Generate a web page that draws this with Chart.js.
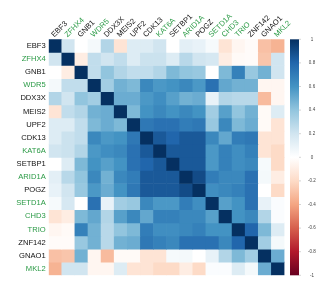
<!DOCTYPE html>
<html>
<head>
<meta charset="utf-8">
<script src="https://cdn.jsdelivr.net/npm/chart.js@4/dist/chart.umd.min.js"></script>
<style>
  html, body { margin: 0; padding: 0; background: #fff; }
  #wrap { width: 326px; height: 297px; }
</style>
</head>
<body>
<div id="wrap"><canvas id="heat"></canvas></div>
<script>
// gene names, in row/column order
var genes = ['EBF3','ZFHX4','GNB1','WDR5','DDX3X','MEIS2','UPF2','CDK13','KAT6A',
             'SETBP1','ARID1A','POGZ','SETD1A','CHD3','TRIO','ZNF142','GNAO1','MKL2'];
// genes drawn with green labels
var greenGenes = ['ZFHX4','WDR5','KAT6A','ARID1A','SETD1A','CHD3','TRIO','MKL2'];

// lower triangle of the correlation matrix (row i, columns 0..i-1)
var corrLower = [
  [],
  [0.2],
  [0, -0.1],
  [0.05, 0.25, 0.25],
  [0.3, 0.2, 0.4, 0.35],
  [-0.15, 0.25, 0.3, 0.48, 0.5],
  [0.15, 0.15, 0.25, 0.45, 0.5, 0.45],
  [0.15, 0.22, 0.25, 0.65, 0.58, 0.6, 0.72],
  [0.2, 0.22, 0.3, 0.58, 0.62, 0.65, 0.75, 0.85],
  [0, 0.15, 0.45, 0.6, 0.55, 0.6, 0.75, 0.8, 0.85],
  [0.12, 0.28, 0.4, 0.65, 0.48, 0.65, 0.7, 0.85, 0.85, 0.85],
  [0.1, 0.2, 0.38, 0.58, 0.5, 0.6, 0.72, 0.85, 0.85, 0.85, 0.9],
  [0.04, 0.18, 0, 0.75, 0.1, 0.35, 0.38, 0.65, 0.58, 0.58, 0.7, 0.62],
  [-0.15, -0.1, 0.45, 0.52, 0.3, 0.55, 0.65, 0.52, 0.68, 0.68, 0.65, 0.65, 0.55],
  [-0.05, -0.03, 0.68, 0.48, 0.28, 0.4, 0.45, 0.7, 0.62, 0.62, 0.65, 0.68, 0.6, 0.6],
  [-0.02, -0.02, 0.38, 0.48, 0.28, 0.48, 0.5, 0.72, 0.68, 0.65, 0.75, 0.75, 0.75, 0.65, 0.8],
  [-0.3, -0.28, 0.48, -0.05, -0.32, -0.03, -0.03, -0.15, -0.15, 0.04, 0.05, 0, 0.1, 0.3, 0.45, 0.35],
  [-0.35, 0.2, 0.2, -0.05, -0.05, 0.15, -0.15, -0.15, -0.2, -0.2, -0.1, -0.2, 0.02, 0.02, 0.15, 0.05, 0.5]
];

// colour bar tick labels
var barTicks = [1, 0.8, 0.6, 0.4, 0.2, 0, -0.2, -0.4, -0.6, -0.8, -1];

// RdBu palette from -1 to 1
var palette = ['#67001F','#B2182B','#D6604D','#F4A582','#FDDBC7','#FFFFFF',
               '#D1E5F0','#92C5DE','#4393C3','#2166AC','#053061'];

function hexRgb(h) {
  return [parseInt(h.substr(1,2),16), parseInt(h.substr(3,2),16), parseInt(h.substr(5,2),16)];
}
function corrColor(v) {
  var t = (v + 1) / 2 * (palette.length - 1);
  var i = Math.min(Math.floor(t), palette.length - 2);
  var f = t - i;
  var a = hexRgb(palette[i]), b = hexRgb(palette[i+1]);
  var c = [0,1,2].map(function(k){ return Math.round(a[k] + (b[k]-a[k])*f); });
  return 'rgb(' + c.join(',') + ')';
}
function corr(i, j) {
  if (i === j) return 1;
  return i > j ? corrLower[i][j] : corrLower[j][i];
}
function labelColor(name) {
  return greenGenes.indexOf(name) >= 0 ? '#2a9a45' : '#111';
}

// one stacked dataset per row, every cell has height 1
var datasets = [];
for (var i = 0; i < genes.length; i++) {
  var colors = [];
  var ones = [];
  for (var j = 0; j < genes.length; j++) {
    colors.push(corrColor(corr(i, j)));
    ones.push(1);
  }
  datasets.push({
    label: genes[i],
    data: ones,
    backgroundColor: colors,
    borderWidth: 0,
    barPercentage: 1,
    categoryPercentage: 1
  });
}

var colorBar = {
  id: 'colorBar',
  afterDraw: function(chart) {
    var ctx = chart.ctx, area = chart.chartArea;
    var x0 = area.right + 5.5, w = 9;
    var g = ctx.createLinearGradient(0, area.top, 0, area.bottom);
    for (var k = 0; k < palette.length; k++) {
      g.addColorStop(k / (palette.length - 1), palette[palette.length - 1 - k]);
    }
    ctx.save();
    ctx.fillStyle = g;
    ctx.fillRect(x0, area.top, w, area.bottom - area.top);
    ctx.font = '4.5px "Liberation Sans", Arial, sans-serif';
    ctx.fillStyle = '#444';
    ctx.strokeStyle = '#aaa';
    ctx.lineWidth = 0.5;
    ctx.textAlign = 'center';
    ctx.textBaseline = 'middle';
    barTicks.forEach(function(v) {
      var y = area.top + (1 - v) / 2 * (area.bottom - area.top);
      ctx.beginPath();
      ctx.moveTo(x0 + w, y);
      ctx.lineTo(x0 + w + 2, y);
      ctx.stroke();
      ctx.fillText(String(v), x0 + w + 13, y);
    });
    ctx.restore();
  }
};

var font = { family: '"Liberation Sans", Arial, sans-serif', size: 7.6 };

new Chart(document.getElementById('heat'), {
  type: 'bar',
  data: { labels: genes, datasets: datasets },
  plugins: [colorBar],
  options: {
    responsive: true,
    maintainAspectRatio: false,
    animation: false,
    layout: { padding: { left: 0, top: 0, right: 41.5, bottom: 21.7 } },
    plugins: { legend: { display: false }, tooltip: { enabled: false } },
    scales: {
      x: {
        position: 'top',
        stacked: true,
        grid: { display: false, drawTicks: false },
        border: { display: false },
        ticks: {
          autoSkip: false,
          maxRotation: 45,
          minRotation: 45,
          padding: 0,
          labelOffset: 4,
          font: font,
          color: function(c) { return labelColor(genes[c.index]); }
        },
        afterFit: function(s) { s.height = 39.3; }
      },
      y: {
        stacked: true,
        reverse: true,
        min: 0,
        max: genes.length,
        grid: { display: false, drawTicks: false },
        border: { display: false },
        afterBuildTicks: function(s) {
          s.ticks = genes.map(function(g, k) { return { value: k + 0.5 }; });
        },
        ticks: {
          autoSkip: false,
          padding: 3,
          font: font,
          callback: function(v) { return genes[Math.floor(v)]; },
          color: function(c) { return labelColor(genes[c.index]); }
        },
        afterFit: function(s) { s.width = 48.7; }
      }
    }
  }
});
</script>
</body>
</html>
